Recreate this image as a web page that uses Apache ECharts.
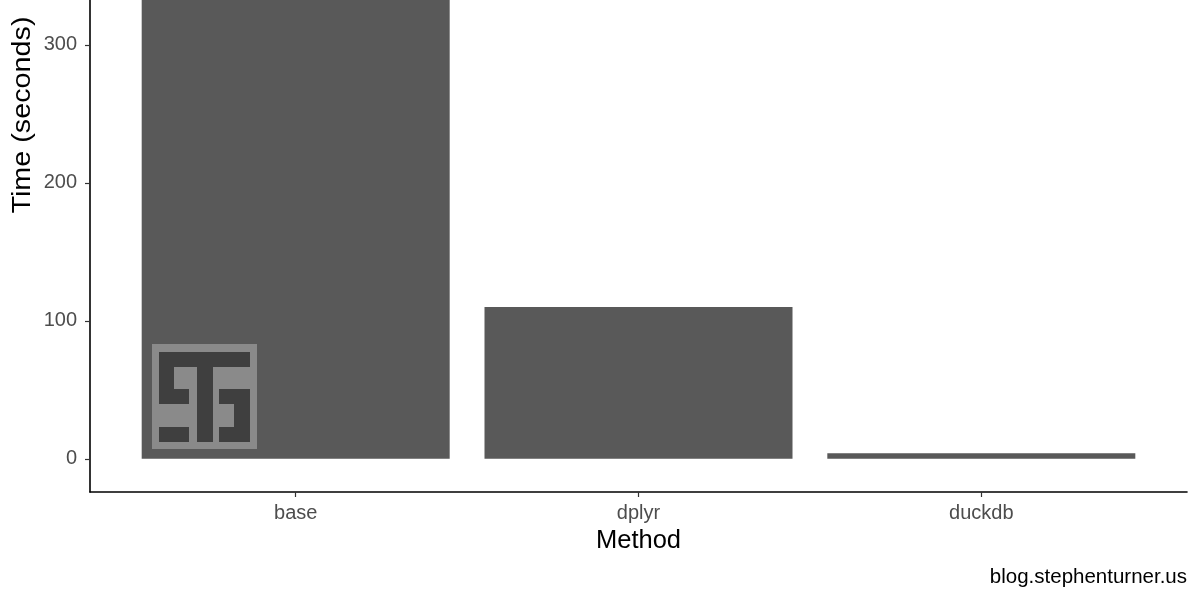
<!DOCTYPE html>
<html>
<head>
<meta charset="utf-8">
<title>Time by method</title>
<script src="https://cdn.jsdelivr.net/npm/echarts@6/dist/echarts.min.js"></script>
<style>
  html, body { margin: 0; padding: 0; background: #fff; }
  #chart { width: 1200px; height: 600px; }
</style>
</head>
<body>
<div id="chart"></div>
<script>
// categories and values (seconds); base runs off the top of the panel
const methods = ['base', 'dplyr', 'duckdb']
const times = [420, 110, 4]
const yTicks = [0, 100, 200, 300]

const FONT = '"Liberation Sans", Arial, Helvetica, sans-serif'

const chart = echarts.init(document.getElementById('chart'))

// watermark logo drawn over the first bar
const logoDark = '#3f3f3f'
const logoLight = '#8a8a8a'
const logoParts = [
  [159, 352, 91, 15],
  [159, 352, 15, 52],
  [159, 389, 30, 15],
  [197, 352, 16, 90],
  [159, 427, 30, 15],
  [219, 389, 31, 53]
]
const logo = [{ type: 'rect', z: 100, shape: { x: 152, y: 344, width: 105, height: 105 }, style: { fill: logoLight } }]
logoParts.forEach(p => {
  logo.push({ type: 'rect', z: 101, shape: { x: p[0], y: p[1], width: p[2], height: p[3] }, style: { fill: logoDark } })
})
logo.push({ type: 'rect', z: 102, shape: { x: 219, y: 404, width: 15, height: 23 }, style: { fill: logoLight } })

const option = {
  animation: false,
  textStyle: { fontFamily: FONT },
  grid: { left: 90, right: 13, top: 0, bottom: 108, containLabel: false },
  xAxis: {
    type: 'value',
    min: 0.4,
    max: 3.6,
    name: 'Method',
    nameLocation: 'middle',
    nameGap: 36,
    nameTextStyle: { fontSize: 25.5, color: '#000', fontFamily: FONT },
    axisLine: { show: true, onZero: false, lineStyle: { color: '#000', width: 1.6 } },
    axisTick: { show: true, length: 5, customValues: [1, 2, 3], lineStyle: { color: '#333', width: 1.2 } },
    axisLabel: {
      customValues: [1, 2, 3],
      formatter: v => methods[Math.round(v) - 1] || '',
      fontSize: 20, color: '#4d4d4d', margin: 11, fontFamily: FONT
    },
    splitLine: { show: false }
  },
  yAxis: {
    type: 'value',
    min: -24.1,
    max: 332.6,
    axisLine: { show: true, onZero: false, lineStyle: { color: '#000', width: 1.6 } },
    axisTick: { show: true, length: 5, customValues: yTicks, lineStyle: { color: '#333', width: 1.2 } },
    axisLabel: { customValues: yTicks, fontSize: 20, color: '#4d4d4d', margin: 13, fontFamily: FONT },
    splitLine: { show: false }
  },
  series: [
    {
      type: 'bar',
      barWidth: 308,
      clip: true,
      itemStyle: { color: '#595959' },
      data: methods.map((m, i) => [i + 1, times[i]])
    }
  ],
  graphic: logo.concat([
    {
      type: 'text',
      x: 23, y: 115,
      rotation: Math.PI / 2,
      scaleX: 1.15,
      style: { text: 'Time (seconds)', fontSize: 25, fill: '#000', fontFamily: FONT, align: 'center', verticalAlign: 'middle' }
    },
    {
      type: 'text',
      x: 1187, y: 577,
      style: { text: 'blog.stephenturner.us', fontSize: 20.5, fill: '#000', fontFamily: FONT, align: 'right', verticalAlign: 'middle' }
    }
  ])
}

chart.setOption(option)
</script>
</body>
</html>
